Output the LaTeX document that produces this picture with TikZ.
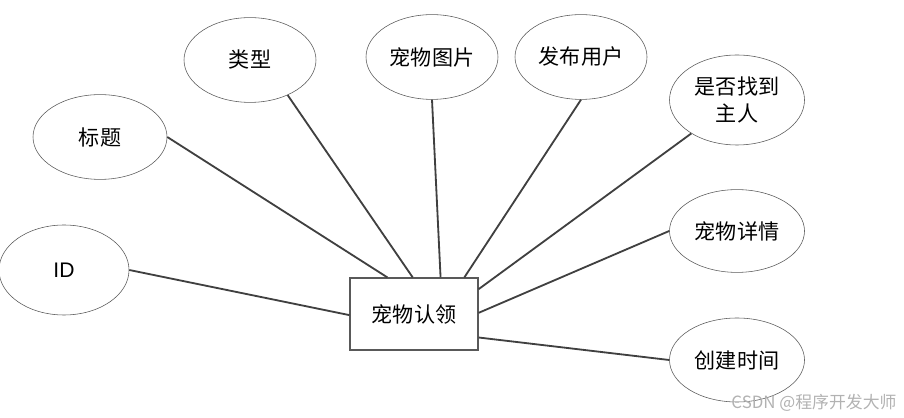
\documentclass[tikz,border=0pt]{standalone}
\usepackage{fontspec}
\setmainfont{Liberation Sans}
\newfontfamily\cjk{Noto Sans CJK SC}
\usepackage{tikz}
\usetikzlibrary{shapes.geometric}
\usepackage{xcolor}
\definecolor{edgegray}{rgb}{0.25, 0.25, 0.25}
\definecolor{rimgray}{rgb}{0.35, 0.35, 0.35}

\begin{document}
\begin{tikzpicture}[
				attr/.style={ellipse, draw=rimgray, fill=white, font=\cjk\fontsize{15}{19}\selectfont, inner sep=0pt, minimum width=3.3cm, minimum height=2.12cm, align=center},
				entity/.style={rectangle, draw=rimgray, thick, fill=white, font=\cjk\fontsize{15}{19}\selectfont, minimum width=3.2cm, minimum height=1.8cm},
				link/.style={edgegray, line width=1.3pt}
			]
			\useasboundingbox (0,0) rectangle (22.6,10.45);

			% --- Entity in the middle ---
			\node[entity] (claim) at (10.35, 2.6) {宠物认领};

			% --- Attributes, top row ---
			\node[attr] (a_type) at (6.25, 8.95) {类型};
			\node[attr] (a_pic) at (10.80, 9.025) {宠物图片};
			\node[attr] (a_user) at (14.525, 9.025) {发布用户};

			% --- Attributes, left side ---
			\node[attr, minimum width=3.35cm] (a_title) at (2.5, 7.025) {标题};
			\node[attr, minimum width=3.25cm, minimum height=2.25cm, font=\fontsize{15}{19}\selectfont] (a_id) at (1.6, 3.7) {ID};

			% --- Attributes, right side ---
			\node[attr, minimum width=3.375cm, minimum height=2.25cm] (a_found) at (18.425, 7.95) {是否找到\\主人};
			\node[attr, minimum width=3.375cm, minimum height=2.07cm] (a_detail) at (18.425, 4.675) {宠物详情};
			\node[attr, minimum width=3.375cm, minimum height=2.1cm] (a_time) at (18.425, 1.45) {创建时间};

			% --- Connections ---
			\draw[link] (a_title.east) -- (claim.126);
			\draw[link] (a_type.-43) -- (claim.92);
			\draw[link] (a_pic.south) -- (claim.54);
			\draw[link] (a_user.south) -- (claim.36);
			\draw[link] (a_found) -- (claim.21);
			\draw[link] (a_detail.west) -- (claim.1);
			\draw[link] (a_time.west) -- (claim.-20);
			\draw[link] (a_id.east) -- (claim.181);

			% --- Watermark ---
			\node[text=black!30, font=\cjk\fontsize{12}{14}\selectfont] (mark) at (20.35, 0.375) {CSDN @程序开发大师};
		\end{tikzpicture}
\end{document}
